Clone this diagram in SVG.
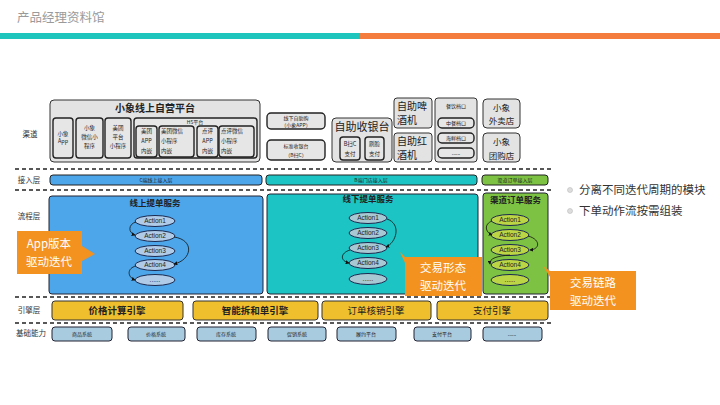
<svg xmlns="http://www.w3.org/2000/svg" width="720" height="405" viewBox="0 0 720 405">
<defs>
<marker id="ah" viewBox="0 0 6 6" refX="5" refY="3" markerWidth="5" markerHeight="5" orient="auto"><path d="M0,0 L6,3 L0,6 z" fill="#111"/></marker>
<style>
text{font-family:"Noto Sans CJK SC","Liberation Sans",sans-serif;}
.gb{fill:#e3e3e3;stroke:#333;stroke-width:1;}
.gi{fill:#e6e6e6;stroke:#222;stroke-width:1.4;}
.t{fill:#222;text-anchor:middle;}
.lbl{fill:#333;font-size:7.5px;text-anchor:middle;}
.dash{stroke:#222;stroke-width:1.3;stroke-dasharray:4 3;fill:none;}
.acc{stroke:#222;stroke-width:1;}
.act{stroke:#1a2a50;stroke-width:1;}
.at{font-family:"Liberation Sans",sans-serif;font-size:6.5px;fill:#222;text-anchor:middle;}
.eng{fill:#f0bf2e;stroke:#333;stroke-width:1;}
.base{fill:#a8cbe0;stroke:#223;stroke-width:1;}
.co{fill:#f3921f;}
.ct{fill:#fff;font-size:11.5px;text-anchor:middle;}
.arr{fill:none;stroke:#111;stroke-width:0.8;marker-end:url(#ah);}
</style>
</defs>
<rect width="720" height="405" fill="#fff"/>
<g id="header">
<text x="17" y="22" font-size="12.5" fill="#9a9a9a">产品经理资料馆</text>
<rect x="0" y="33" width="360" height="6" fill="#1ec5bd"/>
<rect x="360" y="33" width="360" height="6" fill="#f47c3c"/>
</g>
<g id="layer-labels">
<text class="lbl" x="30" y="137">渠道</text>
<text class="lbl" x="29" y="183">接入层</text>
<text class="lbl" x="29" y="219">流程层</text>
<text class="lbl" x="29" y="313">引擎层</text>
<text class="lbl" x="31" y="336">基础能力</text>
</g>
<g id="dividers">
<line class="dash" x1="15" y1="169" x2="552" y2="169"/>
<line class="dash" x1="15" y1="190" x2="552" y2="190"/>
<line class="dash" x1="15" y1="297" x2="552" y2="297"/>
<line class="dash" x1="15" y1="323" x2="552" y2="323"/>
</g>
<g id="online-platform">
<rect class="gb" x="50" y="100" width="210" height="62" rx="4"/>
<text class="t" x="155" y="112" font-size="10" font-weight="bold">小象线上自营平台</text>
<rect class="gi" x="53" y="118" width="20" height="40" rx="3"/>
<text class="t" x="63" y="136" font-size="5.5">小象</text><text class="t" x="63" y="143" font-size="5.5">App</text>
<rect class="gi" x="76" y="118" width="27" height="40" rx="3"/>
<text class="t" x="89.5" y="130" font-size="5.5">小象</text><text class="t" x="89.5" y="139" font-size="5.5">微信小</text><text class="t" x="89.5" y="148" font-size="5.5">程序</text>
<rect class="gi" x="105" y="118" width="26" height="40" rx="3"/>
<text class="t" x="118" y="130" font-size="5.5">美团</text><text class="t" x="118" y="139" font-size="5.5">平台</text><text class="t" x="118" y="148" font-size="5.5">小程序</text>
<rect class="gi" x="134" y="118" width="123" height="40" rx="3"/>
<text class="t" x="195" y="124" font-size="5">H5平台</text>
<rect class="gi" x="136" y="126" width="21" height="31" rx="3"/>
<text class="t" x="146.5" y="133" font-size="5.5">美团</text><text class="t" x="146.5" y="143" font-size="5.5">APP</text><text class="t" x="146.5" y="153" font-size="5.5">内嵌</text>
<rect class="gi" x="159" y="126" width="35" height="31" rx="3"/>
<text x="161" y="133" font-size="5.5" fill="#222">美团微信</text><text x="161" y="143" font-size="5.5" fill="#222">小程序</text><text x="161" y="153" font-size="5.5" fill="#222">内嵌</text>
<rect class="gi" x="197" y="126" width="21" height="31" rx="3"/>
<text class="t" x="207.5" y="133" font-size="5.5">点评</text><text class="t" x="207.5" y="143" font-size="5.5">APP</text><text class="t" x="207.5" y="153" font-size="5.5">内嵌</text>
<rect class="gi" x="219" y="126" width="35" height="31" rx="3"/>
<text x="221" y="133" font-size="5.5" fill="#222">点评微信</text><text x="221" y="143" font-size="5.5" fill="#222">小程序</text><text x="221" y="153" font-size="5.5" fill="#222">内嵌</text>
</g>
<g id="offline-self">
<rect class="gi" x="267" y="113" width="58" height="16" rx="4"/>
<text class="t" x="296" y="120" font-size="5">线下自助购</text><text class="t" x="296" y="127" font-size="5">（小象APP）</text>
</g>
<g id="std-cashier">
<rect class="gi" x="267" y="140" width="58" height="20" rx="4"/>
<text class="t" x="296" y="148" font-size="5">标准收银台</text><text class="t" x="296" y="157" font-size="5">（B扫C）</text>
</g>
<g id="self-cashier">
<rect class="gb" x="332" y="118" width="60" height="44" rx="4"/>
<text class="t" x="362" y="131" font-size="11">自助收银台</text>
<rect class="gi" x="340" y="137" width="20" height="23" rx="3"/>
<text class="t" x="350" y="146" font-size="5.5">B扫C</text><text class="t" x="350" y="156" font-size="5.5">支付</text>
<rect class="gi" x="365" y="137" width="19" height="23" rx="3"/>
<text class="t" x="374.5" y="146" font-size="5.5">刷脸</text><text class="t" x="374.5" y="156" font-size="5.5">支付</text>
</g>
<g id="beer">
<rect class="gb" x="394" y="98" width="38" height="30" rx="3"/>
<text x="397" y="110" font-size="10" fill="#222">自助啤</text><text x="397" y="124" font-size="10" fill="#222">酒机</text>
</g>
<g id="wine">
<rect class="gb" x="394" y="133" width="38" height="29" rx="3"/>
<text x="397" y="145" font-size="10" fill="#222">自助红</text><text x="397" y="159" font-size="10" fill="#222">酒机</text>
</g>
<g id="food-stalls">
<rect class="gb" x="435" y="98" width="42" height="64" rx="3"/>
<text class="t" x="456" y="108" font-size="5">餐饮档口</text>
<rect class="gi" x="438" y="118" width="36" height="10" rx="4"/>
<text class="t" x="456" y="125" font-size="5">中餐档口</text>
<rect class="gi" x="438" y="133" width="36" height="10" rx="4"/>
<text class="t" x="456" y="140" font-size="5">海鲜档口</text>
<rect class="gi" x="438" y="148" width="36" height="10" rx="4"/>
<text class="t" x="456" y="155" font-size="5">......</text>
</g>
<g id="takeout">
<rect class="gb" x="483" y="99" width="37" height="29" rx="4"/>
<text class="t" x="501.5" y="111" font-size="8.5">小象</text><text class="t" x="501.5" y="124" font-size="8.5">外卖店</text>
</g>
<g id="groupbuy">
<rect class="gb" x="483" y="133" width="37" height="29" rx="4"/>
<text class="t" x="501.5" y="145" font-size="8.5">小象</text><text class="t" x="501.5" y="159" font-size="8.5">团购店</text>
</g>
<g id="access-c">
<rect class="acc" x="50" y="175" width="212" height="10" rx="3" fill="#4da6ea"/>
<text class="t" x="156" y="182" font-size="5">C端线上接入层</text>
</g>
<g id="access-b">
<rect class="acc" x="266" y="175" width="211" height="10" rx="3" fill="#1dc4c4"/>
<text class="t" x="371" y="182" font-size="5">B端门店接入层</text>
</g>
<g id="access-ch">
<rect class="acc" x="482" y="175" width="66" height="10" rx="3" fill="#7dc243"/>
<text class="t" x="515" y="182" font-size="5">渠道订单接入层</text>
</g>
<g id="svc-online">
<rect x="49" y="196" width="214" height="98" rx="3" fill="#4da6ea" stroke="#223" stroke-width="1"/>
<text class="t" x="155" y="206" font-size="8.5" font-weight="bold">线上提单服务</text>
<ellipse class="act" cx="155" cy="221" rx="20" ry="5.5" fill="#b0cbe8"/><text class="at" x="155" y="223.3">Action1</text>
<ellipse class="act" cx="155" cy="236" rx="20" ry="5.5" fill="#b0cbe8"/><text class="at" x="155" y="238.3">Action2</text>
<ellipse class="act" cx="155" cy="251" rx="20" ry="5.5" fill="#b0cbe8"/><text class="at" x="155" y="253.3">Action3</text>
<ellipse class="act" cx="155" cy="265" rx="20" ry="5.5" fill="#b0cbe8"/><text class="at" x="155" y="267.3">Action4</text>
<ellipse class="act" cx="155" cy="280" rx="20" ry="5.5" fill="#b0cbe8"/><text class="at" x="155" y="282.3">......</text>
</g>
<g id="svc-offline">
<rect x="267" y="194" width="211" height="100" rx="3" fill="#1dc4c4" stroke="#223" stroke-width="1"/>
<text class="t" x="368" y="202" font-size="8.5" font-weight="bold">线下提单服务</text>
<ellipse class="act" cx="368" cy="218" rx="19" ry="5.5" fill="#a8c8d4"/><text class="at" x="368" y="220.3">Action1</text>
<ellipse class="act" cx="368" cy="233" rx="19" ry="5.5" fill="#a8c8d4"/><text class="at" x="368" y="235.3">Action2</text>
<ellipse class="act" cx="368" cy="248" rx="19" ry="5.5" fill="#a8c8d4"/><text class="at" x="368" y="250.3">Action3</text>
<ellipse class="act" cx="368" cy="263" rx="19" ry="5.5" fill="#a8c8d4"/><text class="at" x="368" y="265.3">Action4</text>
<ellipse class="act" cx="368" cy="279" rx="19" ry="5.5" fill="#a8c8d4"/><text class="at" x="368" y="281.3">......</text>
</g>
<g id="svc-channel">
<rect x="483" y="193" width="65" height="101" rx="3" fill="#7dc243" stroke="#223" stroke-width="1"/>
<text class="t" x="515.5" y="203" font-size="8.5" font-weight="bold">渠道订单服务</text>
<ellipse class="act" cx="510" cy="220" rx="19" ry="5.5" fill="#bcd545"/><text class="at" x="510" y="222.3">Action1</text>
<ellipse class="act" cx="510" cy="235" rx="19" ry="5.5" fill="#bcd545"/><text class="at" x="510" y="237.3">Action2</text>
<ellipse class="act" cx="510" cy="250" rx="19" ry="5.5" fill="#bcd545"/><text class="at" x="510" y="252.3">Action3</text>
<ellipse class="act" cx="510" cy="265" rx="19" ry="5.5" fill="#bcd545"/><text class="at" x="510" y="267.3">Action4</text>
<ellipse class="act" cx="510" cy="280" rx="19" ry="5.5" fill="#bcd545"/><text class="at" x="510" y="282.3">......</text>
</g>
<g id="connectors">
<path class="arr" d="M136,222 C128,224 128,233 135,235"/>
<path class="arr" d="M174,237 C195,240 192,260 174,264"/>
<path class="arr" d="M136,266 C127,268 127,277 135,280"/>
<path class="arr" d="M387,219 C402,224 396,243 386,247"/>
<path class="arr" d="M350,250 C340,253 340,261 349,263"/>
<path class="arr" d="M492,221 C484,224 485,232 492,235"/>
<path class="arr" d="M528,236 C540,239 541,249 530,250"/>
<path class="arr" d="M510,255 C498,256 489,258 490,264"/>
</g>
<g id="engines">
<rect class="eng" x="52" y="301" width="131" height="19" rx="3"/><text class="t" x="117" y="314" font-size="9.5" font-weight="bold">价格计算引擎</text>
<rect class="eng" x="193" y="301" width="125" height="19" rx="3"/><text class="t" x="255" y="314" font-size="9.5" font-weight="bold">智能拆和单引擎</text>
<rect class="eng" x="322" y="301" width="109" height="19" rx="3"/><text class="t" x="376" y="314" font-size="9.5">订单核销引擎</text>
<rect class="eng" x="437" y="301" width="111" height="19" rx="3"/><text class="t" x="492" y="314" font-size="9.5">支付引擎</text>
</g>
<g id="base">
<rect class="base" x="52" y="327" width="60" height="14" rx="3"/><text class="t" x="82" y="336" font-size="5">商品系统</text>
<rect class="base" x="128" y="327" width="57" height="14" rx="3"/><text class="t" x="156" y="336" font-size="5">价格系统</text>
<rect class="base" x="197" y="327" width="59" height="14" rx="3"/><text class="t" x="226" y="336" font-size="5">库存系统</text>
<rect class="base" x="268" y="327" width="58" height="14" rx="3"/><text class="t" x="297" y="336" font-size="5">促销系统</text>
<rect class="base" x="337" y="327" width="59" height="14" rx="3"/><text class="t" x="366" y="336" font-size="5">履约平台</text>
<rect class="base" x="414" y="327" width="57" height="14" rx="3"/><text class="t" x="442" y="336" font-size="5">支付平台</text>
<rect class="base" x="483" y="327" width="59" height="14" rx="3"/><text class="t" x="512" y="336" font-size="5">......</text>
</g>
<g id="callout-app">
<path class="co" d="M17,231 H82 V246 L95,254 L82,261 V274 H17 z"/>
<text class="ct" x="49" y="248">App版本</text>
<text class="ct" x="49" y="266">驱动迭代</text>
</g>
<g id="callout-form">
<path class="co" d="M405,257 H482 V296 H405 V263 L400,252 z"/>
<text class="ct" x="443" y="272">交易形态</text>
<text class="ct" x="443" y="290">驱动迭代</text>
</g>
<g id="callout-link">
<path class="co" d="M550,271 H636 V310 H550 V277 L543,266 z"/>
<text class="ct" x="593" y="287">交易链路</text>
<text class="ct" x="593" y="305">驱动迭代</text>
</g>
<g id="bullets">
<circle cx="570" cy="190" r="2.5" fill="#ddd" stroke="#bbb" stroke-width="0.6"/>
<text x="579" y="194" font-size="11.5" fill="#333">分离不同迭代周期的模块</text>
<circle cx="570" cy="211" r="2.5" fill="#ddd" stroke="#bbb" stroke-width="0.6"/>
<text x="579" y="215" font-size="11.5" fill="#333">下单动作流按需组装</text>
</g>
</svg>
